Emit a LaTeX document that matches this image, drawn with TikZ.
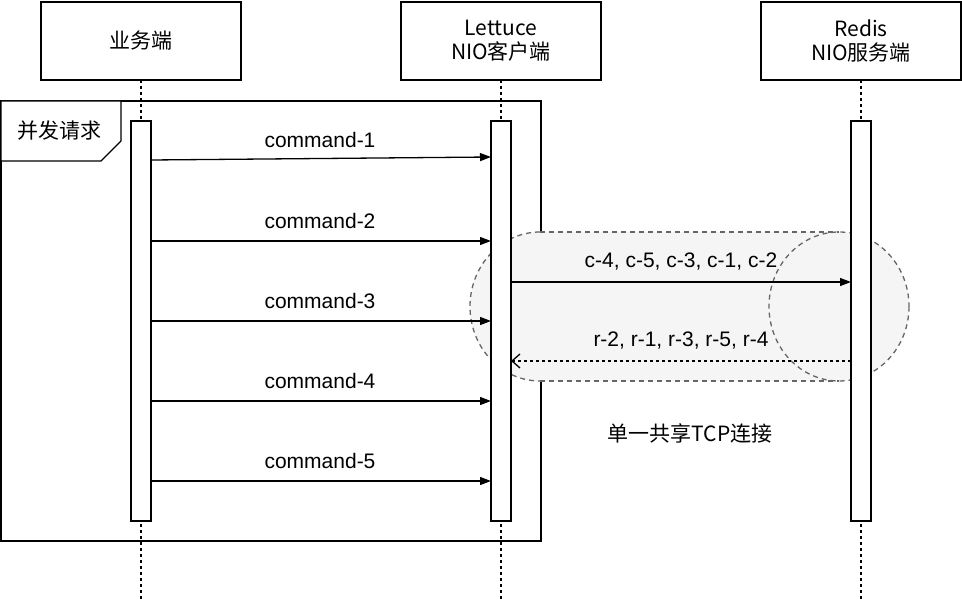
\documentclass[tikz,border=0pt]{standalone}
\usepackage{fontspec}
\setmainfont{Liberation Sans}
\newfontfamily\cjk{Noto Sans CJK SC}
\usetikzlibrary{arrows.meta}
\begin{document}
\begin{tikzpicture}[x=1pt,y=-1pt,line width=1.3,
  txt/.style={font=\fontsize{21}{24}\selectfont\cjk, align=center, inner sep=0},
  head/.style={draw, fill=white, minimum width=200, minimum height=78, txt},
  life/.style={dash pattern=on 3pt off 3pt},
  bar/.style={draw, fill=white, minimum width=20, minimum height=400, inner sep=0},
  msg/.style={-{Triangle[length=11,width=8]}},
  ret/.style={-{Straight Barb[length=8,width=14]}, dash pattern=on 3pt off 3pt},
  cyl/.style={dash pattern=on 5pt off 4pt, black!60},
  lbl/.style={font=\fontsize{21}{24}\selectfont, inner sep=0}]
\useasboundingbox (0,0) rectangle (962,602);
% lifelines
\coordinate (l1t) at (141,80); \coordinate (l1b) at (141,602);
\coordinate (l2t) at (501,80); \coordinate (l2b) at (501,602);
\coordinate (l3t) at (861,80); \coordinate (l3b) at (861,602);
\draw[life] (l1t) -- (l1b);
\draw[life] (l2t) -- (l2b);
\draw[life] (l3t) -- (l3b);
\node[head] (h1) at (141,41) {业务端};
\node[head] (h2) at (501,41) {Lettuce\\NIO客户端};
\node[head] (h3) at (861,41) {Redis\\NIO服务端};
% frame
\draw (1,101) rectangle (541,541);
\draw[fill=white] (1,101) -- (121,101) -- (121,141) -- (101,161) -- (1,161) -- cycle;
\node[txt] (fl) at (59,131) {并发请求};
% cylinder
\fill[black!4] (540,232) -- (839,232) arc[start angle=-90,end angle=90,x radius=70,y radius=74.5] -- (540,381) arc[start angle=90,end angle=270,x radius=70,y radius=74.5] -- cycle;
\draw[cyl] (540,232) -- (839,232) (540,381) -- (839,381);
\draw[cyl] (540,232) arc[start angle=-90,end angle=-270,x radius=70,y radius=74.5];
\draw[cyl] (839,306.5) ellipse[x radius=70,y radius=74.5];
% bars
\node[bar] (b1) at (141,321) {};
\node[bar] (b2) at (501,321) {};
\node[bar] (b3) at (861,321) {};
% messages
\coordinate (s1) at (151,160); \coordinate (e1) at (491,157);
\draw[msg] (s1) -- (e1);
\node[lbl] (m1) at (320,140) {command-1};
\foreach \i/\y in {2/241,3/321,4/401,5/481}{
  \coordinate (s\i) at (151,\y); \coordinate (e\i) at (491,\y);
  \draw[msg] (s\i) -- (e\i);
  \node[lbl] (m\i) at (320,\y-20) {command-\i};
}
\coordinate (cs) at (511,282); \coordinate (ce) at (851,282);
\draw[msg] (cs) -- (ce);
\node[lbl] (cl) at (681,262) {c-4, c-5, c-3, c-1, c-2};
\coordinate (rs) at (851,361); \coordinate (re) at (511,361);
\draw[ret] (rs) -- (re);
\node[lbl] (rl) at (681,341) {r-2, r-1, r-3, r-5, r-4};
\node[txt] (tcp) at (690,433) {单一共享TCP连接};
\end{tikzpicture}
\end{document}
